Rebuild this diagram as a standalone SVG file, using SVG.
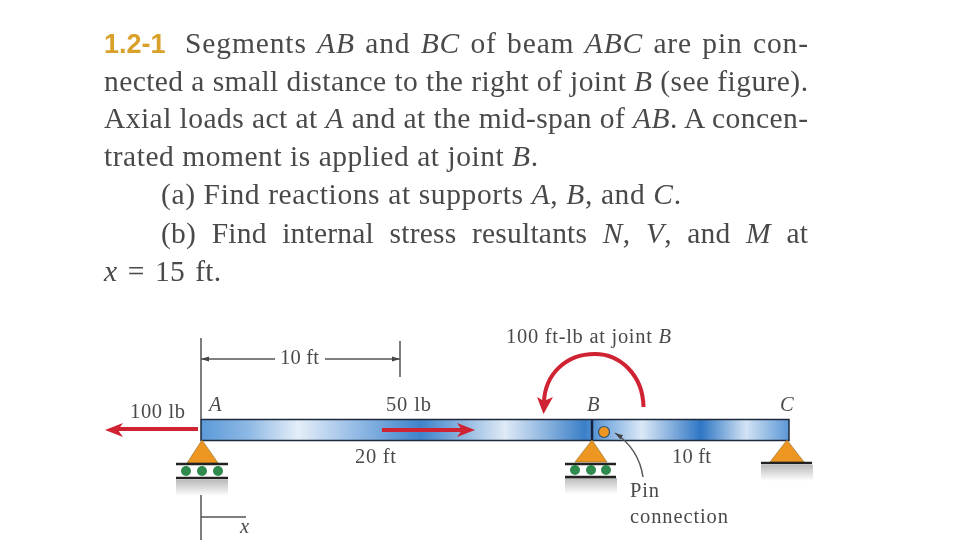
<svg xmlns="http://www.w3.org/2000/svg" width="968" height="558" viewBox="0 0 968 558">
<style>
text{font-family:"Liberation Serif","Times New Roman",serif;fill:#4a4a4a}
.b{font-size:29.5px}
.s{font-size:20.5px}
.i{font-style:italic}
.h{font-family:"Liberation Sans",Arial,sans-serif;font-weight:700;fill:#d9a02b;font-size:27px}
.d{stroke:#555;stroke-width:1.5;fill:none}
.r{fill:#cf2230;stroke:none}
.ra{stroke:#cf2230;stroke-width:4;fill:none}
.t{fill:#ee9620;stroke:#8a6a2a;stroke-width:.6}
.p{stroke:#222;stroke-width:2.5;fill:none}
.o{fill:#2f8a4e}
</style>
<defs>
<linearGradient id="bg" gradientUnits="userSpaceOnUse" x1="201" y1="0" x2="789" y2="0">
<stop offset="0" stop-color="#5b9ad8"/>
<stop offset=".08" stop-color="#8db8e4"/>
<stop offset=".165" stop-color="#e4eef8"/>
<stop offset=".27" stop-color="#8fb8e4"/>
<stop offset=".374" stop-color="#3f83cb"/>
<stop offset=".517" stop-color="#dfeaf6"/>
<stop offset=".653" stop-color="#3a7fc8"/>
<stop offset=".68" stop-color="#6ea4dc"/>
<stop offset=".75" stop-color="#dbe8f6"/>
<stop offset=".85" stop-color="#2f76c4"/>
<stop offset=".927" stop-color="#d2e3f4"/>
<stop offset="1" stop-color="#5b97d6"/>
</linearGradient>
<linearGradient id="sh" x1="0" y1="0" x2="0" y2="1">
<stop offset="0" stop-color="#bbb"/>
<stop offset="1" stop-color="#fff"/>
</linearGradient>
<marker id="dim" viewBox="0 0 8 6" refX="8" refY="3" markerWidth="8" markerHeight="6" orient="auto-start-reverse" markerUnits="userSpaceOnUse"><path d="M0 .5L8 3L0 5.5Z" fill="#444"/></marker>
<filter id="soft" x="-5%" y="-5%" width="110%" height="110%"><feGaussianBlur stdDeviation="0.55"/></filter>
</defs>
<rect width="968" height="558" fill="#fff"/>
<g filter="url(#soft)">
<g id="problem">
<text class="h" x="104" y="53">1.2-1</text>
<text class="b" x="185" y="53" textLength="623" style="word-spacing:2px">Segments <tspan class="i">AB</tspan> and <tspan class="i">BC</tspan> of beam <tspan class="i">ABC</tspan> are pin con-</text>
<text class="b" x="104" y="91" textLength="704">nected a small distance to the right of joint <tspan class="i">B</tspan> (see figure).</text>
<text class="b" x="104" y="128" textLength="704">Axial loads act at <tspan class="i">A</tspan> and at the mid-span of <tspan class="i">AB</tspan>. A concen-</text>
<text class="b" x="104" y="166" textLength="434">trated moment is applied at joint <tspan class="i">B</tspan>.</text>
<text class="b" x="161" y="204" textLength="520">(a) Find reactions at supports <tspan class="i">A</tspan>, <tspan class="i">B</tspan>, and <tspan class="i">C</tspan>.</text>
<text class="b" x="161" y="243" textLength="647" style="word-spacing:8px">(b) Find internal stress resultants <tspan class="i">N</tspan>, <tspan class="i">V</tspan>, and <tspan class="i">M</tspan> at</text>
<text class="b" x="104" y="281" textLength="117" style="word-spacing:3px"><tspan class="i">x</tspan> = 15 ft.</text>
</g>
<g id="shadows">
<rect x="176" y="480" width="52" height="16" fill="url(#sh)"/>
<rect x="565" y="478" width="52" height="16" fill="url(#sh)"/>
<rect x="761" y="465" width="52" height="16" fill="url(#sh)"/>
</g>
<g id="beam">
<rect x="201" y="419.5" width="588" height="21" fill="url(#bg)" stroke="#1f2a3a" stroke-width="1.5"/>
<path d="M592 420V440" stroke="#12233f" stroke-width="2.5"/>
</g>
<g id="support-a">
<path class="t" d="M202 440L187 463H218Z"/>
<path class="p" d="M176 464H228M176 478H228"/>
<circle class="o" cx="186" cy="471" r="5"/><circle class="o" cx="202" cy="471" r="5"/><circle class="o" cx="218" cy="471" r="5"/>
<text class="s i" x="209" y="411">A</text>
</g>
<g id="support-b">
<path class="t" d="M592 440L575 462H607Z"/>
<path class="p" d="M565 464H616M565 477H616"/>
<circle class="o" cx="575" cy="470" r="5"/><circle class="o" cx="591" cy="470" r="5"/><circle class="o" cx="606" cy="470" r="5"/>
<text class="s i" x="587" y="411">B</text>
</g>
<g id="support-c">
<path class="t" d="M787 440L770 462H804Z"/>
<path class="p" d="M761 463H812"/>
<text class="s i" x="780" y="411">C</text>
</g>
<g id="pin">
<circle cx="604" cy="432" r="5.5" fill="#ee9620" stroke="#2f4f6f" stroke-width="1.2"/>
</g>
<g id="connectors">
<path class="d" d="M201 338V419M400 341V377M201 495V540M201 517H246"/>
<path class="d" d="M275 359H201" marker-end="url(#dim)"/>
<path class="d" d="M325 359H400" marker-end="url(#dim)"/>
<path class="d" d="M643 477C640 457 630 443 615 433" marker-end="url(#dim)"/>
<path class="ra" d="M198 429H115"/>
<path class="r" d="M105 430L123 423L118 430L123 437Z"/>
<path class="ra" d="M382 430H463"/>
<path class="r" d="M475 430L457 423L462 430L457 437Z"/>
<path class="ra" d="M643.5 407C643 375 620 354 595 354C565 354 545 375 544 402"/>
<path class="r" d="M543.5 414L537 397L544 401L553 397Z"/>
</g>
<g id="labels">
<text class="s" x="280" y="364" textLength="39">10 ft</text>
<text class="s" x="130" y="418" textLength="55">100 lb</text>
<text class="s" x="386" y="411" textLength="45">50 lb</text>
<text class="s" x="355" y="463" textLength="41">20 ft</text>
<text class="s i" x="240" y="533">x</text>
<text class="s" x="506" y="343" textLength="165">100 ft-lb at joint <tspan class="i">B</tspan></text>
<text class="s" x="672" y="463" textLength="39">10 ft</text>
<text class="s" x="630" y="497" textLength="29">Pin</text>
<text class="s" x="630" y="523" textLength="98">connection</text>
</g>
</g>
</svg>
